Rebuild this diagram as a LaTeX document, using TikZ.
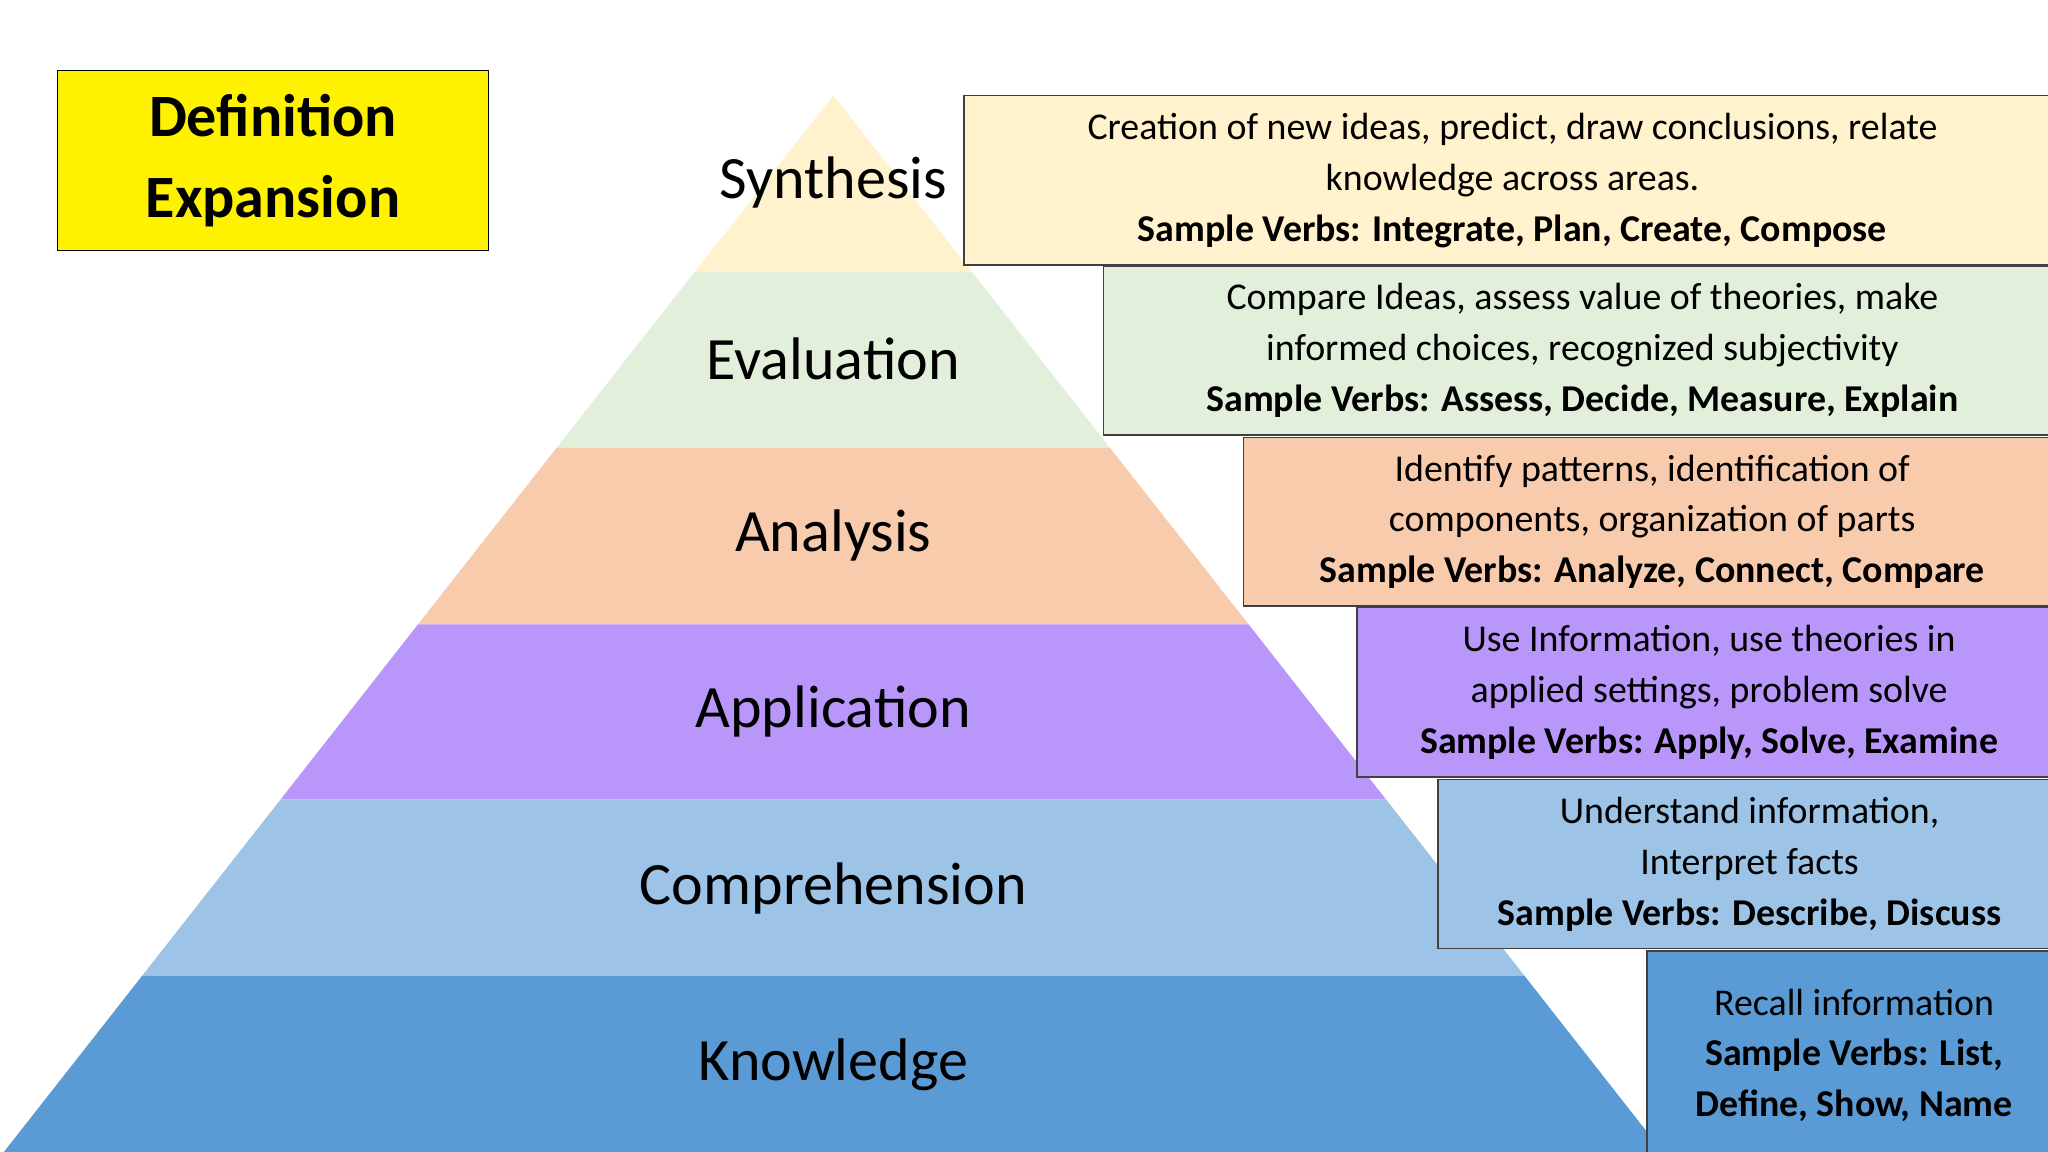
\documentclass[tikz,border=0pt]{standalone}
\usepackage{fontspec}
\setmainfont{Carlito}
\begin{document}
\begin{tikzpicture}[x=1pt,y=-1pt,
 lvl/.style={font=\fontsize{46}{50}\selectfont},
 desc/.style={draw=black!75,line width=1pt,align=center,font=\fontsize{29}{39}\selectfont,inner sep=0pt}]
\useasboundingbox (0,0) rectangle (1568,882);
\clip (0,0) rectangle (1568,882);
\definecolor{c1}{HTML}{FFF2CC}\definecolor{c2}{HTML}{E2EFDA}\definecolor{c3}{HTML}{F8CBAD}
\definecolor{c4}{HTML}{B996F9}\definecolor{c5}{HTML}{9DC3E6}\definecolor{c6}{HTML}{5B9BD5}
\fill[white] (0,0) rectangle (1568,882);
\def\hw#1{(#1-73)*0.785}
\foreach \t/\b/\c in {73/208/c1,208/343/c2,343/478/c3,478/612/c4,612/747/c5,747/882/c6}{
 \fill[\c] ({638-\hw{\t}},\t) -- ({638+\hw{\t}},\t) -- ({638+\hw{\b}},\b) -- ({638-\hw{\b}},\b) -- cycle;}
\node[lvl] (syn) at (638,140) {Synthesis};
\node[lvl] (eva) at (638,275) {Evaluation};
\node[lvl] (ana) at (638,410) {Analysis};
\node[lvl] (app) at (638,545) {Application};
\node[lvl] (com) at (638,680) {Comprehension};
\node[lvl] (kno) at (638,815) {Knowledge};
\node[draw=black,line width=1pt,fill=yellow,minimum width=330,minimum height=138,align=center,font=\bfseries\fontsize{46}{62}\selectfont] (def) at (209,123) {Definition\\Expansion};
\node[desc,fill=c1,minimum width=840,minimum height=130] (b1) at (1158,138) {Creation of new ideas, predict, draw conclusions, relate\\knowledge across areas.\\\textbf{Sample Verbs: Integrate, Plan, Create, Compose}};
\node[desc,fill=c2,minimum width=733,minimum height=129] (b2) at (1211.5,268.5) {Compare Ideas, assess value of theories, make\\informed choices, recognized subjectivity\\\textbf{Sample Verbs: Assess, Decide, Measure, Explain}};
\node[desc,fill=c3,minimum width=626,minimum height=129] (b3) at (1265,399.5) {Identify patterns, identification of\\components, organization of parts\\\textbf{Sample Verbs: Analyze, Connect, Compare}};
\node[desc,fill=c4,minimum width=539,minimum height=130] (b4) at (1308.5,530) {Use Information, use theories in\\applied settings, problem solve\\\textbf{Sample Verbs: Apply, Solve, Examine}};
\node[desc,fill=c5,minimum width=477,minimum height=129] (b5) at (1339.5,661.5) {Understand information,\\Interpret facts\\\textbf{Sample Verbs: Describe, Discuss}};
\node[desc,fill=c6,minimum width=317,minimum height=160] (b6) at (1419.5,808) {Recall information\\\textbf{Sample Verbs: List,}\\\textbf{Define, Show, Name}};
\end{tikzpicture}
\end{document}
